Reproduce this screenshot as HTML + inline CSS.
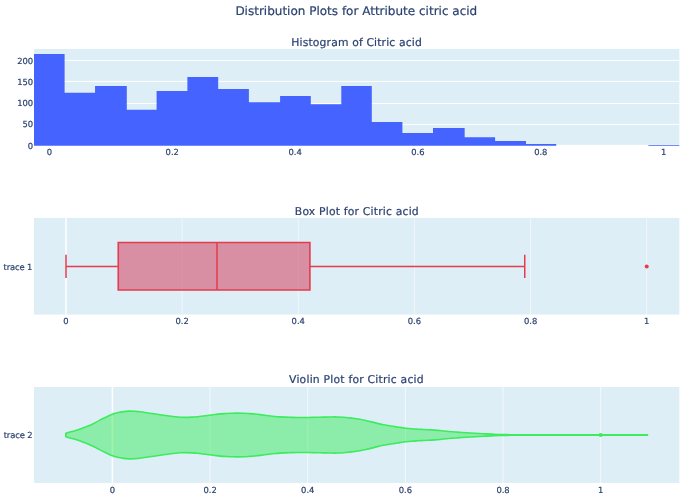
<!DOCTYPE html><html><head><meta charset="utf-8"><title>Distribution Plots for Attribute citric acid</title>
<style>html,body{margin:0;padding:0;background:#fff;}svg{display:block;}text{font-family:'DejaVu Sans', Verdana, sans-serif;fill:#2a4170;text-rendering:geometricPrecision;stroke:#2a4170;stroke-width:0.2px;stroke-linejoin:round;}</style></head><body>
<svg width="685" height="497" viewBox="0 0 685 497">
<rect x="0" y="0" width="685" height="497" fill="#fff"/>
<rect x="34.0" y="49.0" width="645.35" height="95.85" fill="#DDEEF6"/>
<line x1="34.0" x2="679.35" y1="60.4" y2="60.4" stroke="#fff" stroke-width="1"/>
<line x1="34.0" x2="679.35" y1="81.4" y2="81.4" stroke="#fff" stroke-width="1"/>
<line x1="34.0" x2="679.35" y1="103.5" y2="103.5" stroke="#fff" stroke-width="1"/>
<line x1="34.0" x2="679.35" y1="124.4" y2="124.4" stroke="#fff" stroke-width="1"/>
<path d="M34.00,145.8V53.95H64.60V145.8ZM64.60,145.8V92.80H95.05V145.8ZM95.05,145.8V86.10H126.80V145.8ZM126.80,145.8V109.75H156.60V145.8ZM156.60,145.8V91.05H187.40V145.8ZM187.40,145.8V77.00H218.20V145.8ZM218.20,145.8V89.00H248.90V145.8ZM248.90,145.8V102.30H280.10V145.8ZM280.10,145.8V96.00H310.80V145.8ZM310.80,145.8V104.30H341.30V145.8ZM341.30,145.8V85.90H371.80V145.8ZM371.80,145.8V122.00H402.40V145.8ZM402.40,145.8V133.10H433.00V145.8ZM433.00,145.8V127.95H464.65V145.8ZM464.65,145.8V137.35H495.10V145.8ZM495.10,145.8V141.00H526.00V145.8ZM526.00,145.8V144.10H556.20V145.8ZM648.40,145.8V144.90H679.35V145.8Z" fill="#4563FF"/>
<rect x="34.0" y="217.9" width="645.35" height="96.65" fill="#DDEEF6"/>
<line x1="182.14" x2="182.14" y1="217.9" y2="314.55" stroke="#fff" stroke-width="1" stroke-opacity="0.55"/>
<line x1="298.28" x2="298.28" y1="217.9" y2="314.55" stroke="#fff" stroke-width="1" stroke-opacity="0.55"/>
<line x1="414.42" x2="414.42" y1="217.9" y2="314.55" stroke="#fff" stroke-width="1" stroke-opacity="0.55"/>
<line x1="530.56" x2="530.56" y1="217.9" y2="314.55" stroke="#fff" stroke-width="1" stroke-opacity="0.55"/>
<line x1="646.70" x2="646.70" y1="217.9" y2="314.55" stroke="#fff" stroke-width="1" stroke-opacity="0.55"/>
<line x1="66.00" x2="66.00" y1="217.9" y2="314.55" stroke="#fff" stroke-width="1.5"/>
<path d="M118.26,242.5H309.89V290.0H118.26Z" fill="rgb(212,45,80)" fill-opacity="0.5" stroke="#E43C4E" stroke-width="1.6"/>
<path d="M216.98,242.5V290.0M66.00,266.4H118.26M309.89,266.4H524.75M66.00,254.8V278.0M524.75,254.8V278.0" fill="none" stroke="#E43C4E" stroke-width="1.5"/>
<circle cx="646.70" cy="266.4" r="2" fill="#E43C4E"/>
<rect x="34.0" y="387.0" width="645.35" height="95.90" fill="#DDEEF6"/>
<line x1="210.06" x2="210.06" y1="387.0" y2="482.9" stroke="#fff" stroke-width="1" stroke-opacity="0.65"/>
<line x1="307.72" x2="307.72" y1="387.0" y2="482.9" stroke="#fff" stroke-width="1" stroke-opacity="0.65"/>
<line x1="405.38" x2="405.38" y1="387.0" y2="482.9" stroke="#fff" stroke-width="1" stroke-opacity="0.65"/>
<line x1="503.04" x2="503.04" y1="387.0" y2="482.9" stroke="#fff" stroke-width="1" stroke-opacity="0.65"/>
<line x1="600.70" x2="600.70" y1="387.0" y2="482.9" stroke="#fff" stroke-width="1" stroke-opacity="0.65"/>
<line x1="112.40" x2="112.40" y1="387.0" y2="482.9" stroke="#fff" stroke-width="1.5"/>
<path d="M65.80,433.30C66.47,433.10 68.15,432.55 69.80,432.10C71.45,431.65 73.75,431.18 75.70,430.60C77.65,430.02 79.55,429.32 81.50,428.60C83.45,427.88 85.45,427.12 87.40,426.30C89.35,425.48 91.27,424.65 93.20,423.70C95.13,422.75 96.90,421.67 99.00,420.60C101.10,419.53 103.68,418.30 105.80,417.30C107.92,416.30 109.75,415.37 111.70,414.60C113.65,413.83 115.55,413.20 117.50,412.70C119.45,412.20 121.45,411.86 123.40,411.60C125.35,411.34 127.27,411.20 129.20,411.15C131.13,411.10 133.20,411.20 135.00,411.30C136.80,411.40 137.22,411.38 140.00,411.75C142.78,412.12 147.80,412.93 151.70,413.50C155.60,414.07 159.52,414.67 163.40,415.20C167.28,415.73 172.23,416.37 175.00,416.70C177.77,417.03 178.20,417.09 180.00,417.20C181.80,417.31 183.85,417.36 185.80,417.35C187.75,417.34 189.75,417.26 191.70,417.15C193.65,417.04 195.55,416.89 197.50,416.70C199.45,416.51 201.45,416.23 203.40,416.00C205.35,415.77 207.27,415.55 209.20,415.30C211.13,415.05 213.20,414.73 215.00,414.50C216.80,414.27 218.20,414.06 220.00,413.90C221.80,413.74 223.85,413.66 225.80,413.55C227.75,413.44 229.75,413.32 231.70,413.25C233.65,413.18 235.55,413.10 237.50,413.10C239.45,413.10 241.45,413.17 243.40,413.25C245.35,413.33 247.27,413.47 249.20,413.60C251.13,413.73 253.20,413.88 255.00,414.05C256.80,414.22 257.67,414.31 260.00,414.60C262.33,414.89 266.50,415.48 269.00,415.80C271.50,416.12 273.17,416.32 275.00,416.50C276.83,416.68 278.20,416.79 280.00,416.90C281.80,417.01 283.85,417.07 285.80,417.15C287.75,417.23 289.75,417.33 291.70,417.40C293.65,417.47 295.55,417.52 297.50,417.55C299.45,417.58 301.45,417.57 303.40,417.55C305.35,417.53 307.27,417.50 309.20,417.45C311.13,417.40 313.20,417.29 315.00,417.25C316.80,417.21 318.20,417.22 320.00,417.20C321.80,417.18 323.85,417.14 325.80,417.10C327.75,417.06 329.75,416.98 331.70,416.95C333.65,416.92 335.55,416.90 337.50,416.95C339.45,417.00 341.45,417.10 343.40,417.25C345.35,417.40 347.27,417.63 349.20,417.85C351.13,418.07 353.20,418.32 355.00,418.55C356.80,418.78 358.20,418.93 360.00,419.25C361.80,419.57 363.85,420.06 365.80,420.50C367.75,420.94 369.75,421.42 371.70,421.90C373.65,422.38 375.55,422.93 377.50,423.40C379.45,423.87 381.45,424.32 383.40,424.70C385.35,425.08 387.27,425.38 389.20,425.70C391.13,426.02 393.20,426.32 395.00,426.60C396.80,426.88 398.20,427.13 400.00,427.40C401.80,427.67 403.85,427.97 405.80,428.20C407.75,428.43 409.75,428.63 411.70,428.80C413.65,428.97 415.55,429.08 417.50,429.20C419.45,429.32 421.45,429.40 423.40,429.50C425.35,429.60 427.27,429.70 429.20,429.80C431.13,429.90 433.20,429.98 435.00,430.10C436.80,430.23 437.70,430.32 440.00,430.55C442.30,430.78 445.88,431.23 448.80,431.50C451.72,431.77 454.58,431.95 457.50,432.15C460.42,432.35 463.38,432.52 466.30,432.70C469.22,432.88 472.08,433.08 475.00,433.25C477.92,433.42 480.88,433.55 483.80,433.70C486.72,433.85 489.80,434.02 492.50,434.15C495.20,434.27 497.08,434.36 500.00,434.45C502.92,434.54 506.67,434.63 510.00,434.70C513.33,434.77 515.00,434.82 520.00,434.85C525.00,434.88 518.75,434.87 540.00,434.87C561.25,434.87 629.58,434.87 647.50,434.87L647.50,435.13C629.58,435.13 561.25,435.13 540.00,435.13C518.75,435.13 525.00,435.12 520.00,435.15C515.00,435.18 513.33,435.23 510.00,435.30C506.67,435.37 502.92,435.46 500.00,435.55C497.08,435.64 495.20,435.73 492.50,435.85C489.80,435.98 486.72,436.15 483.80,436.30C480.88,436.45 477.92,436.58 475.00,436.75C472.08,436.92 469.22,437.12 466.30,437.30C463.38,437.48 460.42,437.65 457.50,437.85C454.58,438.05 451.72,438.23 448.80,438.50C445.88,438.77 442.30,439.22 440.00,439.45C437.70,439.68 436.80,439.77 435.00,439.90C433.20,440.02 431.13,440.10 429.20,440.20C427.27,440.30 425.35,440.40 423.40,440.50C421.45,440.60 419.45,440.68 417.50,440.80C415.55,440.92 413.65,441.03 411.70,441.20C409.75,441.37 407.75,441.57 405.80,441.80C403.85,442.03 401.80,442.33 400.00,442.60C398.20,442.87 396.80,443.12 395.00,443.40C393.20,443.68 391.13,443.98 389.20,444.30C387.27,444.62 385.35,444.92 383.40,445.30C381.45,445.68 379.45,446.13 377.50,446.60C375.55,447.07 373.65,447.62 371.70,448.10C369.75,448.58 367.75,449.06 365.80,449.50C363.85,449.94 361.80,450.43 360.00,450.75C358.20,451.07 356.80,451.22 355.00,451.45C353.20,451.68 351.13,451.93 349.20,452.15C347.27,452.37 345.35,452.60 343.40,452.75C341.45,452.90 339.45,453.00 337.50,453.05C335.55,453.10 333.65,453.08 331.70,453.05C329.75,453.02 327.75,452.94 325.80,452.90C323.85,452.86 321.80,452.82 320.00,452.80C318.20,452.78 316.80,452.79 315.00,452.75C313.20,452.71 311.13,452.60 309.20,452.55C307.27,452.50 305.35,452.47 303.40,452.45C301.45,452.43 299.45,452.42 297.50,452.45C295.55,452.48 293.65,452.53 291.70,452.60C289.75,452.67 287.75,452.77 285.80,452.85C283.85,452.93 281.80,452.99 280.00,453.10C278.20,453.21 276.83,453.32 275.00,453.50C273.17,453.68 271.50,453.88 269.00,454.20C266.50,454.52 262.33,455.11 260.00,455.40C257.67,455.69 256.80,455.78 255.00,455.95C253.20,456.12 251.13,456.27 249.20,456.40C247.27,456.53 245.35,456.67 243.40,456.75C241.45,456.83 239.45,456.90 237.50,456.90C235.55,456.90 233.65,456.82 231.70,456.75C229.75,456.68 227.75,456.56 225.80,456.45C223.85,456.34 221.80,456.26 220.00,456.10C218.20,455.94 216.80,455.73 215.00,455.50C213.20,455.27 211.13,454.95 209.20,454.70C207.27,454.45 205.35,454.23 203.40,454.00C201.45,453.77 199.45,453.49 197.50,453.30C195.55,453.11 193.65,452.96 191.70,452.85C189.75,452.74 187.75,452.66 185.80,452.65C183.85,452.64 181.80,452.69 180.00,452.80C178.20,452.91 177.77,452.97 175.00,453.30C172.23,453.63 167.28,454.27 163.40,454.80C159.52,455.33 155.60,455.93 151.70,456.50C147.80,457.07 142.78,457.88 140.00,458.25C137.22,458.62 136.80,458.60 135.00,458.70C133.20,458.80 131.13,458.90 129.20,458.85C127.27,458.80 125.35,458.66 123.40,458.40C121.45,458.14 119.45,457.80 117.50,457.30C115.55,456.80 113.65,456.17 111.70,455.40C109.75,454.63 107.92,453.70 105.80,452.70C103.68,451.70 101.10,450.47 99.00,449.40C96.90,448.33 95.13,447.25 93.20,446.30C91.27,445.35 89.35,444.52 87.40,443.70C85.45,442.88 83.45,442.12 81.50,441.40C79.55,440.68 77.65,439.98 75.70,439.40C73.75,438.82 71.45,438.35 69.80,437.90C68.15,437.45 66.47,436.90 65.80,436.70Z" fill="#3CEB5E" fill-opacity="0.5" stroke="#3CEB5E" stroke-width="1.6" stroke-linejoin="round"/>
<circle cx="600.70" cy="435.0" r="2.1" fill="#3CEB5E"/>
<text x="356.3" y="14.6" font-size="12" text-anchor="middle">Distribution Plots for Attribute citric acid</text>
<text x="356.55" y="46.2" font-size="10.8" text-anchor="middle" textLength="130.4" lengthAdjust="spacing">Histogram of Citric acid</text>
<text x="356.75" y="214.8" font-size="10.8" text-anchor="middle" textLength="123.9" lengthAdjust="spacing">Box Plot for Citric acid</text>
<text x="356.35" y="383.4" font-size="10.8" text-anchor="middle" textLength="134.6" lengthAdjust="spacing">Violin Plot for Citric acid</text>
<text x="33.2" y="148.54" font-size="8.4" text-anchor="end">0</text>
<text x="33.2" y="127.28" font-size="8.4" text-anchor="end">50</text>
<text x="33.2" y="106.02" font-size="8.4" text-anchor="end">100</text>
<text x="33.2" y="84.76" font-size="8.4" text-anchor="end">150</text>
<text x="33.2" y="63.5" font-size="8.4" text-anchor="end">200</text>
<text x="49.36" y="155.1" font-size="8.4" text-anchor="middle">0</text>
<text x="66.00" y="323.9" font-size="8.4" text-anchor="middle">0</text>
<text x="112.40" y="492.6" font-size="8.4" text-anchor="middle">0</text>
<text x="172.22" y="155.1" font-size="8.4" text-anchor="middle">0.2</text>
<text x="182.14" y="323.9" font-size="8.4" text-anchor="middle">0.2</text>
<text x="210.06" y="492.6" font-size="8.4" text-anchor="middle">0.2</text>
<text x="295.08" y="155.1" font-size="8.4" text-anchor="middle">0.4</text>
<text x="298.28" y="323.9" font-size="8.4" text-anchor="middle">0.4</text>
<text x="307.72" y="492.6" font-size="8.4" text-anchor="middle">0.4</text>
<text x="417.94" y="155.1" font-size="8.4" text-anchor="middle">0.6</text>
<text x="414.42" y="323.9" font-size="8.4" text-anchor="middle">0.6</text>
<text x="405.38" y="492.6" font-size="8.4" text-anchor="middle">0.6</text>
<text x="540.80" y="155.1" font-size="8.4" text-anchor="middle">0.8</text>
<text x="530.56" y="323.9" font-size="8.4" text-anchor="middle">0.8</text>
<text x="503.04" y="492.6" font-size="8.4" text-anchor="middle">0.8</text>
<text x="663.66" y="155.1" font-size="8.4" text-anchor="middle">1</text>
<text x="646.70" y="323.9" font-size="8.4" text-anchor="middle">1</text>
<text x="600.70" y="492.6" font-size="8.4" text-anchor="middle">1</text>
<text x="32.4" y="269.6" font-size="8.4" text-anchor="end" textLength="28.9" lengthAdjust="spacing">trace 1</text>
<text x="32.6" y="437.9" font-size="8.4" text-anchor="end" textLength="28.9" lengthAdjust="spacing">trace 2</text>
</svg></body></html>
